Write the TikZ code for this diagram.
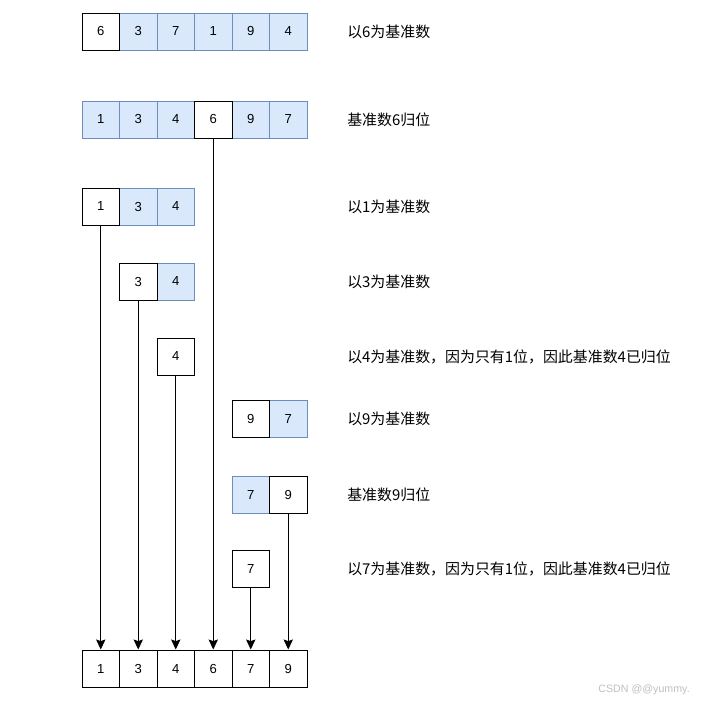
\documentclass[tikz,border=0pt]{standalone}
\usepackage{fontspec}
\setmainfont{Liberation Sans}
\newfontfamily\cjk{Noto Sans CJK SC}
\usetikzlibrary{arrows.meta}
\definecolor{bfill}{HTML}{DAE8FC}
\definecolor{bdraw}{HTML}{6C8EBF}
\begin{document}
\begin{tikzpicture}[x=0.75pt,y=-0.75pt,
  cell/.style={minimum width=28.125pt,minimum height=27.75pt,inner sep=0pt,font=\fontsize{9.8}{10}\selectfont,line width=0.75pt},
  bluecell/.style={cell,draw=bdraw,fill=bfill},
  whitecell/.style={cell,draw=black,fill=white},
  lbl/.style={anchor=west,inner sep=0pt,font=\cjk\fontsize{11.2}{12}\selectfont},
  arr/.style={line width=0.75pt,-{Stealth[length=7.5pt,width=7pt,inset=1.2pt]}}]
\useasboundingbox (0,0) rectangle (701,703);
% row 1
\node[bluecell] (r1c2) at (138.25,31.5) {3};
\node[bluecell] (r1c3) at (175.75,31.5) {7};
\node[bluecell] (r1c4) at (213.25,31.5) {1};
\node[bluecell] (r1c5) at (250.75,31.5) {9};
\node[bluecell] (r1c6) at (288.25,31.5) {4};
\node[whitecell] (r1c1) at (100.75,31.5) {6};
\node[lbl] (t1) at (347,31.5) {以6为基准数};
% row 2
\node[bluecell] (r2c1) at (100.75,119.5) {1};
\node[bluecell] (r2c2) at (138.25,119.5) {3};
\node[bluecell] (r2c3) at (175.75,119.5) {4};
\node[bluecell] (r2c5) at (250.75,119.5) {9};
\node[bluecell] (r2c6) at (288.25,119.5) {7};
\node[whitecell] (r2c4) at (213.25,119.5) {6};
\node[lbl] (t2) at (347,119.5) {基准数6归位};
% row 3
\node[bluecell] (r3c2) at (138.25,206.5) {3};
\node[bluecell] (r3c3) at (175.75,206.5) {4};
\node[whitecell] (r3c1) at (100.75,206.5) {1};
\node[lbl] (t3) at (347,206.5) {以1为基准数};
% row 4
\node[bluecell] (r4c3) at (175.75,281.5) {4};
\node[whitecell] (r4c2) at (138.25,281.5) {3};
\node[lbl] (t4) at (347,281.5) {以3为基准数};
% row 5
\node[whitecell] (r5c3) at (175.75,356.5) {4};
\node[lbl] (t5) at (347,356.5) {以4为基准数，因为只有1位，因此基准数4已归位};
% row 6
\node[bluecell] (r6c6) at (288.25,418.5) {7};
\node[whitecell] (r6c5) at (250.75,418.5) {9};
\node[lbl] (t6) at (347,418.5) {以9为基准数};
% row 7
\node[bluecell] (r7c5) at (250.75,494.5) {7};
\node[whitecell] (r7c6) at (288.25,494.5) {9};
\node[lbl] (t7) at (347,494.5) {基准数9归位};
% row 8
\node[whitecell] (r8c5) at (250.75,568.5) {7};
\node[lbl] (t8) at (347,568.5) {以7为基准数，因为只有1位，因此基准数4已归位};
% final row
\node[whitecell] (f1) at (100.75,668.5) {1};
\node[whitecell] (f2) at (138.25,668.5) {3};
\node[whitecell] (f3) at (175.75,668.5) {4};
\node[whitecell] (f4) at (213.25,668.5) {6};
\node[whitecell] (f5) at (250.75,668.5) {7};
\node[whitecell] (f6) at (288.25,668.5) {9};
% arrows
\draw[arr] (r3c1) -- (f1);
\draw[arr] (r4c2) -- (f2);
\draw[arr] (r5c3) -- (f3);
\draw[arr] (r2c4) -- (f4);
\draw[arr] (r8c5) -- (f5);
\draw[arr] (r7c6) -- (f6);
% watermark
\node[anchor=east,inner sep=0pt,text=black!25,font=\fontsize{8}{9}\selectfont] (wm) at (690,690) {CSDN @@yummy.};
\end{tikzpicture}
\end{document}
